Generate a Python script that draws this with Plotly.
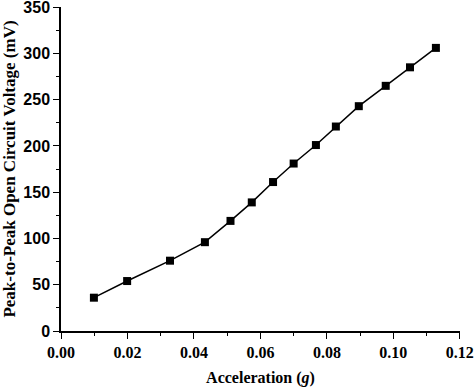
import plotly.graph_objects as go

acceleration = [0.0099, 0.0199, 0.0328, 0.0433, 0.051, 0.0574, 0.0638, 0.070, 0.0767, 0.0827, 0.0896, 0.0977, 0.105, 0.1128]
voltage = [36, 54, 76, 96, 119, 139, 161, 181, 201, 221, 243, 265, 285, 306]
x_ticks = [0.00, 0.02, 0.04, 0.06, 0.08, 0.10, 0.12]
x_tick_labels = ["0.00", "0.02", "0.04", "0.06", "0.08", "0.10", "0.12"]
y_ticks = [0, 50, 100, 150, 200, 250, 300, 350]
y_tick_labels = ["0", "50", "100", "150", "200", "250", "300", "350"]

fig = go.Figure()
fig.add_trace(go.Scatter(
    x=acceleration, y=voltage, mode="lines+markers",
    line=dict(color="black", width=1.5),
    marker=dict(symbol="square", size=8, color="black"),
    showlegend=False, cliponaxis=False,
))

fig.update_layout(
    width=474, height=387,
    margin=dict(l=61, r=14, t=7, b=56, autoexpand=False),
    plot_bgcolor="white", paper_bgcolor="white",
)
fig.update_xaxes(
    range=[0, 0.12005], tickvals=x_ticks, ticktext=x_tick_labels, automargin=False,
    showgrid=False, zeroline=False, showline=True, linecolor="black", linewidth=1.5,
    ticks="outside", ticklen=6, tickwidth=1.2, tickcolor="black",
    minor=dict(dtick=0.01, ticks="outside", ticklen=3, tickwidth=1, tickcolor="black"),
    tickfont=dict(family="Liberation Serif", size=16, color="black", weight="bold"),
    ticklabeloverflow="allow",
    title=dict(text="Acceleration (<i>g</i>)", standoff=12,
               font=dict(family="Liberation Serif", size=16, color="black", weight="bold")),
)
fig.update_yaxes(
    range=[0, 350.2], tickvals=y_ticks, ticktext=y_tick_labels, automargin=False,
    showgrid=False, zeroline=False, showline=True, linecolor="black", linewidth=1.5,
    ticks="outside", ticklen=6, tickwidth=1.2, tickcolor="black",
    minor=dict(dtick=25, ticks="outside", ticklen=3, tickwidth=1, tickcolor="black"),
    tickfont=dict(family="Arial", size=16, color="black", weight="bold"),
    ticklabeloverflow="allow",
    title=dict(text="Peak-to-Peak Open Circuit Voltage (mV)", standoff=6,
               font=dict(family="Liberation Serif", size=17, color="black", weight="bold")),
)

fig.write_html(
    "out.html",
    config={"displayModeBar": False},
    post_script="document.body.style.margin='0';document.body.style.overflow='hidden';",
)
